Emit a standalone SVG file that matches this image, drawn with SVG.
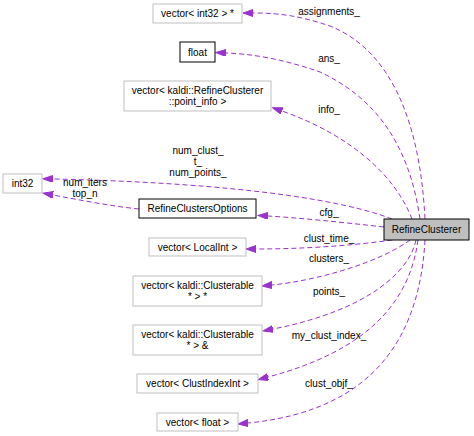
<svg xmlns="http://www.w3.org/2000/svg" width="474" height="436" viewBox="0 0 474 436">
<style>
text{font-family:"Liberation Sans",Arial,sans-serif;font-size:10px;fill:#000;text-anchor:middle}
.n rect{fill:#fff;stroke:#bfbfbf;stroke-width:1}
.n.k rect{stroke:#000}
#RefineClusterer rect{fill:#bfbfbf;stroke:#000}
.e path{fill:none;stroke:#9a32cd;stroke-width:1;stroke-dasharray:5,3;marker-end:url(#ah)}
</style>
<defs>
<marker id="ah" markerUnits="userSpaceOnUse" markerWidth="11" markerHeight="8" refX="0" refY="3.5" orient="auto">
<path d="M0,0 L10,3.5 L0,7 z" fill="#9a32cd" stroke="#9a32cd" stroke-width="1"/>
</marker>
</defs>
<rect width="474" height="436" fill="#fff"/>
<g id="edges" class="e">
<path d="M425,219 C420,120 390,50 330,26 C300,16 280,13 253,13"/>
<path d="M420,219 C410,150 380,100 320,72 C280,58 250,54 226,53"/>
<path d="M412,219 C395,175 350,135 282,111"/>
<path d="M392,219 C330,195 200,182 53,179"/>
<path d="M139,209 C110,206 80,200 53,195"/>
<path d="M384,227 C340,222 300,218 268,216"/>
<path d="M392,240 C350,246 300,249 256,249"/>
<path d="M410,240 C380,262 320,280 272,285"/>
<path d="M416,240 C410,270 370,310 273,329"/>
<path d="M418,240 C410,300 370,350 268,377"/>
<path d="M425,240 C420,330 380,410 248,423"/>
</g>
<g id="edge-labels">
<text x="329" y="15">assignments_</text>
<text x="329" y="62">ans_</text>
<text x="329" y="113">info_</text>
<text x="198" y="154">num_clust_</text>
<text x="198" y="165">t_</text>
<text x="198" y="176">num_points_</text>
<text x="85" y="186">num_iters</text>
<text x="85" y="197">top_n</text>
<text x="329" y="216">cfg_</text>
<text x="329" y="242">clust_time_</text>
<text x="329" y="262">clusters_</text>
<text x="329" y="295">points_</text>
<text x="329" y="339">my_clust_index_</text>
<text x="329" y="387">clust_objf_</text>
</g>
<g id="vec_int32_ptr" class="n"><rect x="153" y="4" width="89" height="19"/><text x="197.5" y="17">vector&lt; int32 &gt; *</text></g>
<g id="float" class="n k"><rect x="180" y="42" width="35" height="20"/><text x="197.5" y="55.5">float</text></g>
<g id="vec_point_info" class="n"><rect x="124" y="81" width="147" height="30"/><text x="197.5" y="94">vector&lt; kaldi::RefineClusterer</text><text x="197.5" y="105">::point_info &gt;</text></g>
<g id="int32" class="n"><rect x="3" y="174" width="39" height="19"/><text x="22.5" y="187">int32</text></g>
<g id="RefineClustersOptions" class="n k"><rect x="139" y="199" width="117" height="19"/><text x="197.5" y="212">RefineClustersOptions</text></g>
<g id="RefineClusterer" class="n"><rect x="384" y="219" width="85" height="21"/><text x="426.5" y="233">RefineClusterer</text></g>
<g id="vec_LocalInt" class="n"><rect x="149" y="238" width="97" height="18"/><text x="197.5" y="250.5">vector&lt; LocalInt &gt;</text></g>
<g id="vec_clusterable_ptr" class="n"><rect x="133" y="276" width="129" height="30"/><text x="197.5" y="289">vector&lt; kaldi::Clusterable</text><text x="197.5" y="300">* &gt; *</text></g>
<g id="vec_clusterable_ref" class="n"><rect x="133" y="325" width="129" height="30"/><text x="197.5" y="338">vector&lt; kaldi::Clusterable</text><text x="197.5" y="349">* &gt; &amp;</text></g>
<g id="vec_ClustIndexInt" class="n"><rect x="137" y="374" width="121" height="19"/><text x="197.5" y="387">vector&lt; ClustIndexInt &gt;</text></g>
<g id="vec_float" class="n"><rect x="157" y="413" width="81" height="18"/><text x="197.5" y="425.5">vector&lt; float &gt;</text></g>
</svg>
